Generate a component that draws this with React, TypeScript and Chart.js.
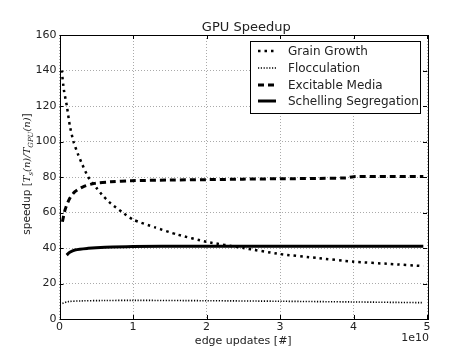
import React, { useEffect, useRef } from "react";
import { Chart, registerables } from "chart.js";

Chart.register(...registerables);

// x values in units of 1e10 edge updates
const grainX = [0.03, 0.06, 0.1, 0.14, 0.19, 0.25, 0.3, 0.39, 0.5, 0.6, 0.7, 0.86, 1.0, 1.3, 1.6, 2.0, 2.5, 3.0, 3.5, 4.0, 4.5, 4.95];
const grainY = [140, 129, 120, 109, 100, 93, 88, 80, 74, 69, 65, 60, 56, 51.6, 47.6, 43.5, 40, 36.6, 34.4, 32.3, 31, 29.8];

const floccX = [0.04, 0.12, 0.3, 0.6, 1, 2, 3, 4, 4.95];
const floccY = [8.8, 9.8, 10.2, 10.4, 10.5, 10.3, 10, 9.6, 9.2];

const excitX = [0.04, 0.075, 0.14, 0.21, 0.32, 0.48, 0.7, 0.98, 1.5, 2, 2.5, 3, 3.5, 3.9, 4.0, 4.5, 4.95];
const excitY = [54.8, 61.4, 68, 71.7, 74.5, 76.4, 77.3, 77.9, 78.3, 78.5, 78.8, 79, 79.2, 79.5, 80.2, 80.3, 80.3];

const schelX = [0.098, 0.14, 0.21, 0.39, 0.62, 1, 1.5, 2, 3, 4, 4.95];
const schelY = [36, 37.6, 38.9, 39.8, 40.4, 40.9, 41, 41, 41, 41, 41];

const seriesNames = ["Grain Growth", "Flocculation", "Excitable Media", "Schelling Segregation"];
const xTicks = [0, 1, 2, 3, 4, 5];
const yTicks = [0, 20, 40, 60, 80, 100, 120, 140, 160];

const FONT = "'DejaVu Sans', sans-serif";

function pts(xs: number[], ys: number[]) {
  return xs.map((x, i) => ({ x, y: ys[i] }));
}

const overlay = {
  id: "overlay",
  afterDraw(chart: any) {
    const { ctx, chartArea: a, scales } = chart;
    const xs = scales.x, ys = scales.y;
    ctx.save();
    // box
    ctx.strokeStyle = "#000";
    ctx.lineWidth = 1;
    ctx.setLineDash([]);
    ctx.strokeRect(Math.round(a.left) + 0.5, Math.round(a.top) + 0.5, Math.round(a.right - a.left), Math.round(a.bottom - a.top));
    // ticks inward
    ctx.beginPath();
    for (const t of xTicks) {
      const px = Math.round(xs.getPixelForValue(t)) + 0.5;
      ctx.moveTo(px, a.bottom); ctx.lineTo(px, a.bottom - 4);
      ctx.moveTo(px, a.top); ctx.lineTo(px, a.top + 4);
    }
    for (const t of yTicks) {
      const py = Math.round(ys.getPixelForValue(t)) + 0.5;
      ctx.moveTo(a.left, py); ctx.lineTo(a.left + 4, py);
      ctx.moveTo(a.right, py); ctx.lineTo(a.right - 4, py);
    }
    ctx.stroke();

    ctx.fillStyle = "#222";
    // title
    ctx.font = `13px ${FONT}`;
    ctx.textAlign = "center";
    ctx.textBaseline = "alphabetic";
    ctx.fillText("GPU Speedup", (a.left + a.right) / 2 + 3, 31);
    // x label
    ctx.font = `11px ${FONT}`;
    ctx.fillText("edge updates [#]", (a.left + a.right) / 2, 344);
    // offset text
    ctx.textAlign = "right";
    ctx.fillText("1e10", a.right + 2, 341);

    // y label (rotated)
    ctx.save();
    ctx.translate(30, 174);
    ctx.rotate(-Math.PI / 2);
    const parts: [string, string, number][] = [
      ["speedup [", "n", 0],
      ["T", "i", 0],
      ["s", "i", 1],
      ["(n)/", "i", 0],
      ["T", "i", 0],
      ["GPU", "i", 1],
      ["(n)", "i", 0],
      ["]", "n", 0],
    ];
    const fontFor = (p: [string, string, number]) =>
      p[2] ? `italic 7px 'DejaVu Serif', serif` : p[1] === "i" ? `italic 10px 'DejaVu Serif', serif` : `10.5px ${FONT}`;
    let total = 0;
    for (const p of parts) { ctx.font = fontFor(p); total += ctx.measureText(p[0]).width; }
    let cx = -total / 2;
    ctx.textAlign = "left";
    for (const p of parts) {
      ctx.font = fontFor(p);
      ctx.fillText(p[0], cx, p[2] ? 2.5 : 0);
      cx += ctx.measureText(p[0]).width;
    }
    ctx.restore();

    // legend
    const lx = 250, ly = 41, lw = 170, lh = 72;
    ctx.fillStyle = "#fff";
    ctx.fillRect(lx, ly, lw, lh);
    ctx.strokeStyle = "#000";
    ctx.lineWidth = 1;
    ctx.strokeRect(lx + 0.5, ly + 0.5, lw, lh);
    const rows = [51, 68, 85, 101];
    chart.data.datasets.forEach((ds: any, i: number) => {
      const y = rows[i];
      ctx.strokeStyle = ds.borderColor;
      ctx.lineWidth = ds.borderWidth;
      ctx.setLineDash(ds.borderDash || []);
      ctx.beginPath();
      ctx.moveTo(258, y);
      ctx.lineTo(276, y);
      ctx.stroke();
      ctx.setLineDash([]);
      ctx.fillStyle = "#222";
      ctx.font = `12px ${FONT}`;
      ctx.textAlign = "left";
      ctx.textBaseline = "middle";
      ctx.fillText(ds.label, 288, y + 1);
    });
    ctx.restore();
  },
};

export default function App() {
  const ref = useRef<HTMLCanvasElement>(null);
  useEffect(() => {
    document.body.style.margin = "0";
    const chart = new Chart(ref.current!, {
      type: "scatter",
      data: {
        datasets: [
          { label: seriesNames[0], data: pts(grainX, grainY), showLine: true, borderColor: "#000", borderWidth: 2.5, borderDash: [2.5, 4], pointRadius: 0, tension: 0.2 },
          { label: seriesNames[1], data: pts(floccX, floccY), showLine: true, borderColor: "#000", borderWidth: 1.6, borderDash: [1.2, 1.6], pointRadius: 0, tension: 0.3 },
          { label: seriesNames[2], data: pts(excitX, excitY), showLine: true, borderColor: "#000", borderWidth: 3, borderDash: [6, 4], pointRadius: 0, tension: 0.3 },
          { label: seriesNames[3], data: pts(schelX, schelY), showLine: true, borderColor: "#000", borderWidth: 3, pointRadius: 0, tension: 0.3 },
        ] as any,
      },
      options: {
        animation: false,
        responsive: false,
        layout: { padding: { left: 0, right: 47, top: 35, bottom: 0 } },
        plugins: { legend: { display: false }, tooltip: { enabled: false }, title: { display: false } },
        scales: {
          x: {
            type: "linear",
            min: 0,
            max: 5,
            afterFit: (s: any) => { s.height = 36; },
            afterBuildTicks: (s: any) => { s.ticks = xTicks.map((v) => ({ value: v })); },
            ticks: { color: "#222", font: { family: FONT, size: 11 }, padding: 2, maxRotation: 0 },
            grid: { color: "#aaa", drawTicks: false, lineWidth: 1 },
            border: { display: false, dash: [1, 2] },
          },
          y: {
            type: "linear",
            min: 0,
            max: 160,
            afterFit: (s: any) => { s.width = 59.5; },
            afterBuildTicks: (s: any) => { s.ticks = yTicks.map((v) => ({ value: v })); },
            ticks: { color: "#222", font: { family: FONT, size: 11 }, padding: 3 },
            grid: { color: "#aaa", drawTicks: false, lineWidth: 1 },
            border: { display: false, dash: [1, 2] },
          },
        },
      } as any,
      plugins: [overlay],
    });
    return () => chart.destroy();
  }, []);
  return (
    <div style={{ position: "absolute", left: 0, top: 0, width: 474, height: 355, background: "#fff" }}>
      <canvas ref={ref} width={474} height={355} style={{ width: 474, height: 355 }} />
    </div>
  );
}
